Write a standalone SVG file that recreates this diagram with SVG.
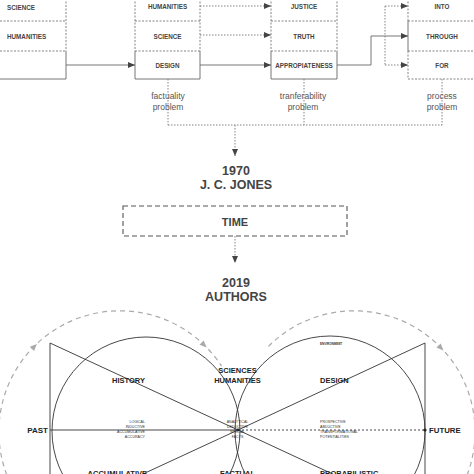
<svg xmlns="http://www.w3.org/2000/svg" width="474" height="474" viewBox="0 0 474 474">
<style>
.lbl{font-family:"Liberation Sans",Arial,sans-serif;font-weight:bold;font-size:6.3px;fill:#444;text-anchor:middle}
.note{font-family:"Liberation Sans",Arial,sans-serif;font-size:8.5px;fill:#555;text-anchor:middle}
.big{font-family:"Liberation Sans",Arial,sans-serif;font-weight:bold;font-size:12.5px;fill:#444;text-anchor:middle}
.mid{font-family:"Liberation Sans",Arial,sans-serif;font-weight:bold;font-size:7.5px;fill:#222}
.tiny{font-family:"Liberation Sans",Arial,sans-serif;font-size:3.6px;fill:#333}
.dash{fill:none;stroke:#777;stroke-width:0.9;stroke-dasharray:2,1.5}
.solid{fill:none;stroke:#666;stroke-width:0.9}
.dot{fill:none;stroke:#777;stroke-width:0.9;stroke-dasharray:1.5,1.5}
.ln{fill:none;stroke:#333;stroke-width:0.9}
.arc{fill:none;stroke:#aaa;stroke-width:1.2;stroke-dasharray:5,4}
</style>
<defs>
<marker id="ah" markerUnits="userSpaceOnUse" markerWidth="7" markerHeight="6" refX="7" refY="3" orient="auto">
<path d="M0,0 L7,3 L0,6 z" fill="#444"/>
</marker>
<path id="ga" d="M-3.5,-3 L3.5,0 L-3.5,3 z" fill="#aaa"/>
</defs>

<g id="col1">
<path class="dash" d="M66,-2 V51 M0,21 H66 M0,51 H66"/>
<path class="solid" d="M66,51 V79 H-2"/>
<text class="lbl" x="7" y="9.5" style="text-anchor:start">SCIENCE</text>
<text class="lbl" x="7" y="38.5" style="text-anchor:start">HUMANITIES</text>
</g>

<g id="col2">
<path class="dash" d="M135,-2 V51 M200,-2 V51 M135,21 H200 M135,51 H200"/>
<path class="solid" d="M135,51 V79 H200 V51"/>
<text class="lbl" x="167.5" y="9">HUMANITIES</text>
<text class="lbl" x="167.5" y="38.5">SCIENCE</text>
<text class="lbl" x="167.5" y="67.8">DESIGN</text>
</g>

<g id="col3">
<path class="dash" d="M271,-2 V51 M337,-2 V51 M271,21 H337 M271,51 H337"/>
<path class="solid" d="M271,51 V79 H337 V51"/>
<text class="lbl" x="304" y="9">JUSTICE</text>
<text class="lbl" x="304" y="38.5">TRUTH</text>
<text class="lbl" x="304" y="67.8">APPROPIATENESS</text>
</g>

<g id="col4">
<path class="dash" d="M408,-2 V21 M408,51 V79 H476 M408,21 H476 M408,51 H476"/>
<path class="solid" d="M408,21 V51"/>
<text class="lbl" x="442" y="9">INTO</text>
<text class="lbl" x="442" y="38.5">THROUGH</text>
<text class="lbl" x="442" y="67.8">FOR</text>
</g>

<g id="connectors">
<path class="solid" d="M66,65 H135" marker-end="url(#ah)"/>
<path class="solid" d="M200,65 H271" marker-end="url(#ah)"/>
<path class="dot" d="M200,6 H271" marker-end="url(#ah)"/>
<path class="dot" d="M200,35 H271" marker-end="url(#ah)"/>
<path class="solid" d="M337,65 H371 V36 H408" marker-end="url(#ah)"/>
<path class="dot" d="M385,6 V65"/>
<path class="dot" d="M385,6 H408" marker-end="url(#ah)"/>
<path class="dot" d="M385,65 H408" marker-end="url(#ah)"/>
<path class="dot" d="M168,79 V125 M304,79 V125 M442,79 V125 M168,125 H442"/>
<path class="dot" d="M235,125 V156" marker-end="url(#ah)"/>
<path class="dot" d="M235,236 V263" marker-end="url(#ah)"/>
</g>

<g id="notes">
<text class="note" x="168" y="99">factuality</text>
<text class="note" x="168" y="110">problem</text>
<text class="note" x="303" y="99">tranferability</text>
<text class="note" x="303" y="110">problem</text>
<text class="note" x="442" y="99">process</text>
<text class="note" x="442" y="110">problem</text>
</g>

<g id="jones">
<text class="big" x="236" y="174.5">1970</text>
<text class="big" x="236" y="188.5">J. C. JONES</text>
</g>

<g id="time">
<rect x="123" y="206" width="224" height="30" fill="none" stroke="#555" stroke-width="1.1" stroke-dasharray="5,3"/>
<text class="big" x="235" y="226" style="font-size:11px">TIME</text>
</g>

<g id="authors">
<text class="big" x="236" y="287">2019</text>
<text class="big" x="236" y="300.5">AUTHORS</text>
</g>

<g id="figure">
<path class="arc" d="M10.3,483.1 A121,121 0 0 1 221.5,366.1"/>
<path class="arc" d="M268.4,346.4 A121,121 0 0 1 466.2,477.3"/>
<use href="#ga" transform="translate(34.4,346.4) rotate(-45)"/>
<use href="#ga" transform="translate(204.1,345) rotate(44)"/>
<use href="#ga" transform="translate(441,348) rotate(46)"/>
<circle class="ln" cx="146" cy="431" r="94"/>
<circle class="ln" cx="330" cy="431" r="95"/>
<path class="ln" d="M50,480 V343 L238,430 L50,517 M50,430 H238"/>
<path class="ln" d="M425,480 V343 L238,430 L425,517"/>
<path fill="none" stroke="#333" stroke-width="0.9" stroke-dasharray="2,2" d="M238,430 H425"/>
<circle cx="238" cy="430" r="1.4" fill="#222"/>
<circle cx="425" cy="430" r="1.6" fill="#222"/>
</g>

<g id="figure-labels">
<text class="mid" x="145" y="383" text-anchor="end">HISTORY</text>
<text class="mid" x="237.5" y="373" text-anchor="middle">SCIENCES</text>
<text class="mid" x="237.5" y="383" text-anchor="middle">HUMANITIES</text>
<text class="mid" x="320" y="383">DESIGN</text>
<text class="tiny" x="320" y="345" style="font-size:3px;font-weight:bold">ENVIRONMENT</text>
<text class="mid" x="48" y="433" text-anchor="end" style="font-size:8px">PAST</text>
<text class="mid" x="429" y="433" style="font-size:7.8px">FUTURE</text>
<text class="mid" x="147" y="475.5" text-anchor="end">ACCUMULATIVE</text>
<text class="mid" x="237.5" y="475.5" text-anchor="middle">FACTUAL</text>
<text class="mid" x="320" y="475.5">PROBABILISTIC</text>
<g text-anchor="end">
<text class="tiny" x="145" y="423.4">LOGICAL</text>
<text class="tiny" x="145" y="428.4">INDUCTIVE</text>
<text class="tiny" x="145" y="433.4">ACCUMULATIVE</text>
<text class="tiny" x="145" y="438.4">ACCURACY</text>
</g>
<g text-anchor="middle">
<text class="tiny" x="237.5" y="423.4">ANALYTICAL</text>
<text class="tiny" x="237.5" y="428.4">DEDUCTIVE</text>
<text class="tiny" x="237.5" y="433.4">SPECIAL</text>
<text class="tiny" x="237.5" y="438.4">FACTS</text>
</g>
<text class="tiny" x="320" y="423.4">PROSPECTIVE</text>
<text class="tiny" x="320" y="428.4">ABDUCTIVE</text>
<text class="tiny" x="320" y="433.4">TRANSFORMATIONAL</text>
<text class="tiny" x="320" y="438.4">POTENTIALITIES</text>
</g>
</svg>
